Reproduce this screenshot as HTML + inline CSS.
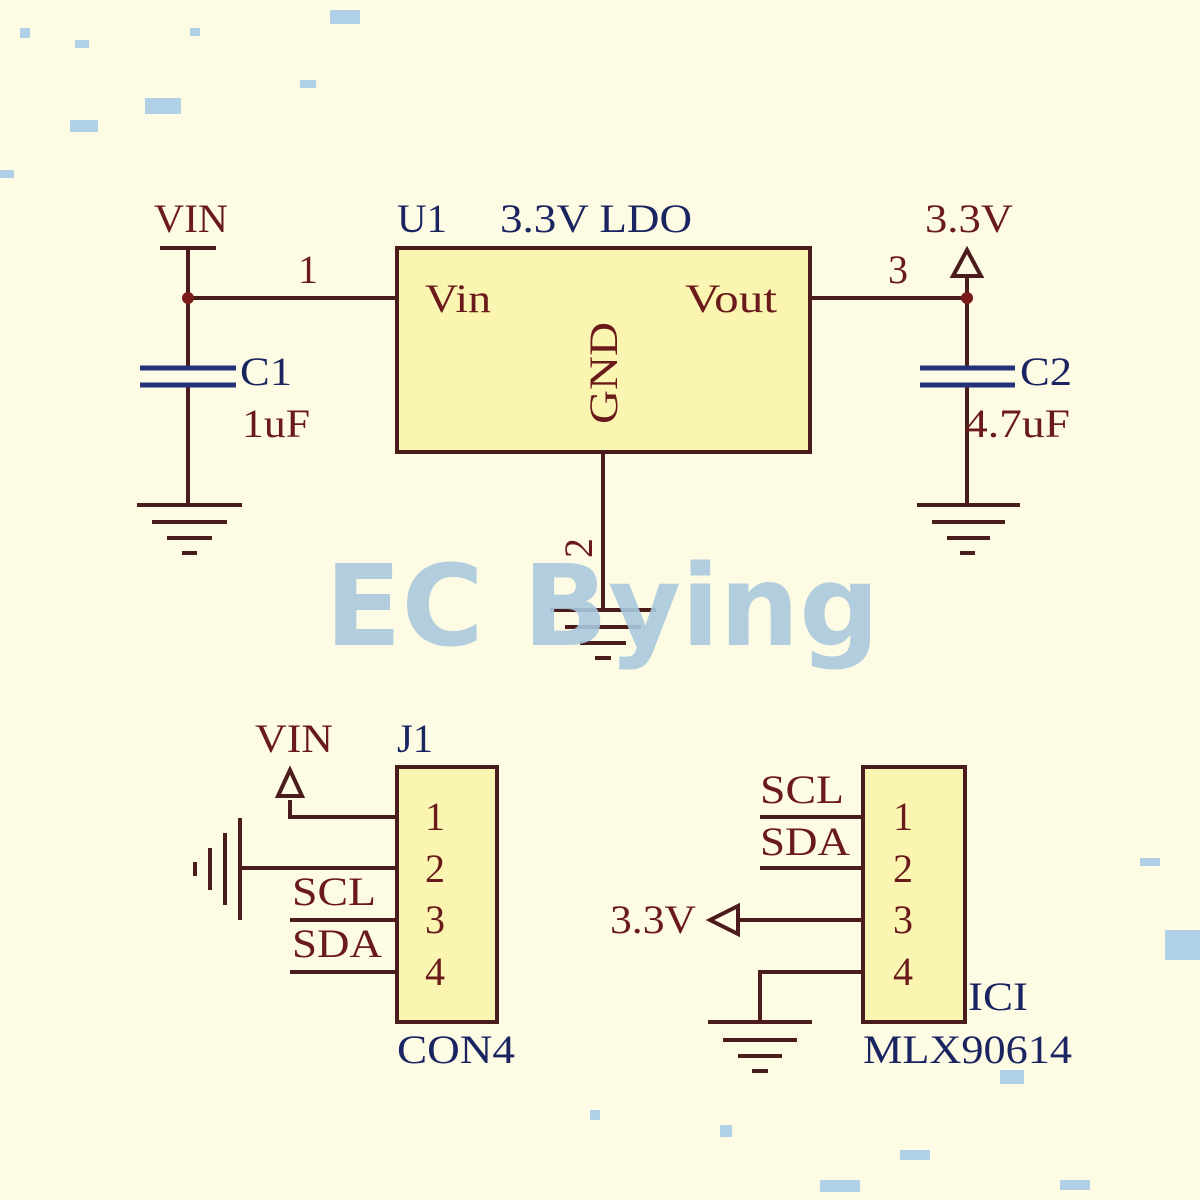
<!DOCTYPE html>
<html><head><meta charset="utf-8"><style>
html,body{margin:0;padding:0;background:#fdfbe4;}
svg{display:block}
text{font-family:"Liberation Serif",serif;font-size:40px;}
.r{fill:#6a1a1a}.b{fill:#1a2460}
</style></head><body>
<svg width="1200" height="1200" viewBox="0 0 1200 1200">
<rect width="1200" height="1200" fill="#fdfbe4"/>
<g fill="#9cc6e6" opacity="0.8">
<rect x="20" y="28" width="10" height="10"/><rect x="75" y="40" width="14" height="8"/><rect x="145" y="98" width="36" height="16"/><rect x="70" y="120" width="28" height="12"/><rect x="190" y="28" width="10" height="8"/><rect x="300" y="80" width="16" height="8"/><rect x="330" y="10" width="30" height="14"/><rect x="0" y="170" width="14" height="8"/><rect x="1140" y="858" width="20" height="8"/><rect x="1165" y="930" width="35" height="30"/><rect x="1000" y="1070" width="24" height="14"/><rect x="720" y="1125" width="12" height="12"/><rect x="900" y="1150" width="30" height="10"/><rect x="590" y="1110" width="10" height="10"/><rect x="1060" y="1180" width="30" height="10"/><rect x="820" y="1180" width="40" height="12"/>
</g>
<g stroke="#4a1c1c" stroke-width="4" fill="none">
<line x1="160" y1="248" x2="216" y2="248"/>
<line x1="188" y1="248" x2="188" y2="368"/><line x1="188" y1="385" x2="188" y2="505"/>
<line x1="188" y1="298" x2="397" y2="298"/>
<line x1="137" y1="505" x2="242" y2="505"/><line x1="152" y1="522" x2="227" y2="522"/><line x1="167" y1="538" x2="212" y2="538"/><line x1="182" y1="553" x2="197" y2="553"/>
<rect x="397" y="248" width="413" height="204" fill="#fbf5b2"/>
<line x1="603" y1="452" x2="603" y2="610"/>
<line x1="550" y1="610" x2="656" y2="610"/><line x1="565" y1="627" x2="641" y2="627"/><line x1="580" y1="643" x2="626" y2="643"/><line x1="595" y1="658" x2="611" y2="658"/>
<line x1="810" y1="298" x2="967" y2="298"/>
<line x1="967" y1="278" x2="967" y2="368"/><line x1="967" y1="385" x2="967" y2="505"/>
<polygon points="967,250 953,276 981,276"/>
<line x1="917" y1="505" x2="1020" y2="505"/><line x1="932" y1="522" x2="1005" y2="522"/><line x1="947" y1="538" x2="990" y2="538"/><line x1="960" y1="553" x2="975" y2="553"/>
<rect x="397" y="767" width="100" height="255" fill="#fbf5b2"/>
<polyline points="290,800 290,817 397,817"/>
<polygon points="290,770 278,796 302,796"/>
<line x1="240" y1="868" x2="397" y2="868"/>
<line x1="240" y1="818" x2="240" y2="920"/><line x1="225" y1="833" x2="225" y2="905"/><line x1="210" y1="848" x2="210" y2="890"/><line x1="195" y1="862" x2="195" y2="876"/>
<line x1="290" y1="920" x2="397" y2="920"/><line x1="290" y1="972" x2="397" y2="972"/>
<rect x="863" y="767" width="102" height="255" fill="#fbf5b2"/>
<line x1="760" y1="817" x2="863" y2="817"/><line x1="760" y1="868" x2="863" y2="868"/>
<line x1="738" y1="920" x2="863" y2="920"/>
<polygon points="710,920 738,906 738,934"/>
<polyline points="863,972 760,972 760,1022"/>
<line x1="708" y1="1022" x2="812" y2="1022"/><line x1="723" y1="1040" x2="797" y2="1040"/><line x1="738" y1="1056" x2="782" y2="1056"/><line x1="752" y1="1071" x2="768" y2="1071"/>
</g>
<g stroke="#22337a" stroke-width="5">
<line x1="140" y1="368" x2="236" y2="368"/><line x1="140" y1="385" x2="236" y2="385"/>
<line x1="920" y1="368" x2="1015" y2="368"/><line x1="920" y1="385" x2="1015" y2="385"/>
</g>
<circle cx="188" cy="298" r="6" fill="#7a1a1a"/><circle cx="967" cy="298" r="6" fill="#7a1a1a"/>
<text class="r" x="154" y="232" textLength="74" lengthAdjust="spacingAndGlyphs">VIN</text>
<text class="b" x="397" y="232" textLength="50" lengthAdjust="spacingAndGlyphs">U1</text>
<text class="b" x="500" y="232" textLength="192" lengthAdjust="spacingAndGlyphs">3.3V LDO</text>
<text class="r" x="298" y="283">1</text>
<text class="r" x="425" y="312" textLength="66" lengthAdjust="spacingAndGlyphs">Vin</text>
<text class="r" x="685" y="312" textLength="92" lengthAdjust="spacingAndGlyphs">Vout</text>
<text class="r" transform="translate(617,424) rotate(-90)" textLength="102" lengthAdjust="spacingAndGlyphs">GND</text>
<text class="r" transform="translate(592,558) rotate(-90)">2</text>
<text class="r" x="888" y="283">3</text>
<text class="r" x="925" y="232" textLength="88" lengthAdjust="spacingAndGlyphs">3.3V</text>
<text class="b" x="240" y="385" textLength="52" lengthAdjust="spacingAndGlyphs">C1</text>
<text class="r" x="242" y="437" textLength="68" lengthAdjust="spacingAndGlyphs">1uF</text>
<text class="b" x="1020" y="385" textLength="52" lengthAdjust="spacingAndGlyphs">C2</text>
<text class="r" x="965" y="437" textLength="105" lengthAdjust="spacingAndGlyphs">4.7uF</text>
<text x="325" y="645" style="font-family:'DejaVu Sans','Liberation Sans',sans-serif;font-weight:bold;font-size:112px;fill:#a9c9de;opacity:0.9">EC Bying</text>
<text class="r" x="255" y="752" textLength="78" lengthAdjust="spacingAndGlyphs">VIN</text>
<text class="b" x="397" y="752" textLength="36" lengthAdjust="spacingAndGlyphs">J1</text>
<text class="r" x="425" y="830">1</text><text class="r" x="425" y="882">2</text><text class="r" x="425" y="933">3</text><text class="r" x="425" y="985">4</text>
<text class="r" x="292" y="905" textLength="84" lengthAdjust="spacingAndGlyphs">SCL</text><text class="r" x="292" y="957" textLength="90" lengthAdjust="spacingAndGlyphs">SDA</text>
<text class="b" x="397" y="1063" textLength="118" lengthAdjust="spacingAndGlyphs">CON4</text>
<text class="r" x="760" y="803" textLength="84" lengthAdjust="spacingAndGlyphs">SCL</text><text class="r" x="760" y="855" textLength="90" lengthAdjust="spacingAndGlyphs">SDA</text>
<text class="r" x="893" y="830">1</text><text class="r" x="893" y="882">2</text><text class="r" x="893" y="933">3</text><text class="r" x="893" y="985">4</text>
<text class="r" x="610" y="933" textLength="86" lengthAdjust="spacingAndGlyphs">3.3V</text>
<text class="b" x="968" y="1010" textLength="60" lengthAdjust="spacingAndGlyphs">ICI</text>
<text class="b" x="863" y="1063" textLength="209" lengthAdjust="spacingAndGlyphs">MLX90614</text>
</svg>
</body></html>
